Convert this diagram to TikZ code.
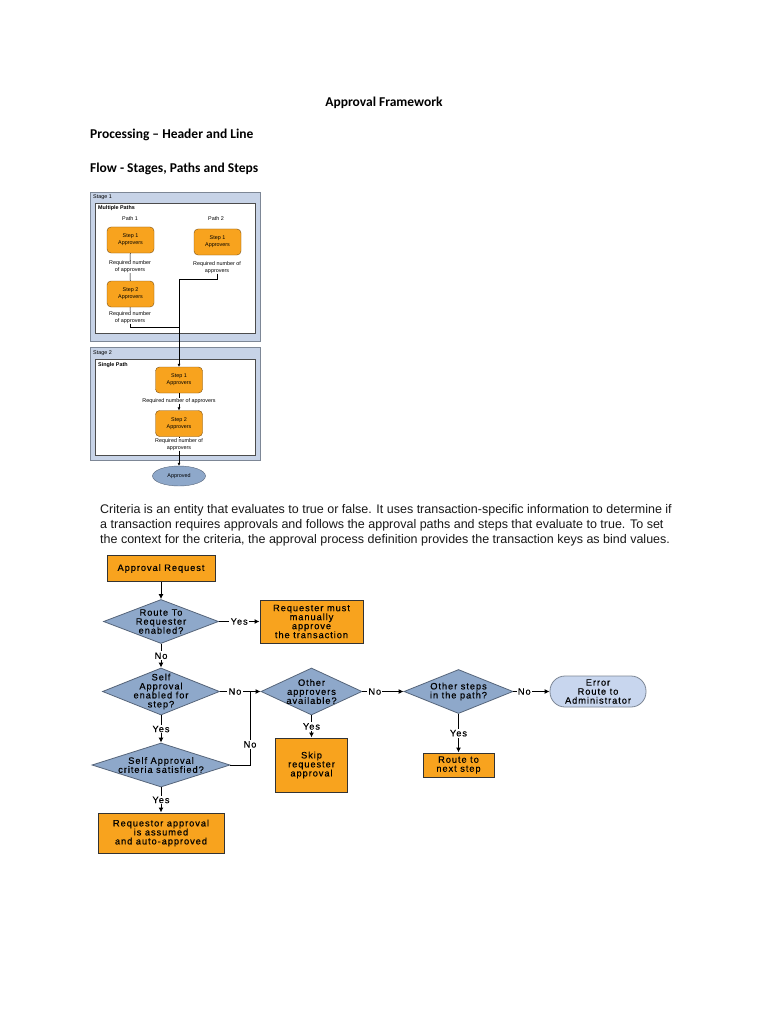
\documentclass[tikz,border=0pt]{standalone}
\usepackage{fontspec}
\setmainfont{Liberation Sans}
\newfontfamily\headfont[Ligatures=TeX]{Carlito}
\newfontfamily\flowfont[LetterSpace=10,FakeBold=0.3]{Liberation Sans}
\usetikzlibrary{shapes.geometric,arrows.meta}
\definecolor{steporange}{HTML}{F8A31E}
\definecolor{stepline}{HTML}{7A4E10}
\definecolor{stagefill}{HTML}{C7D3E7}
\definecolor{stageline}{HTML}{7D8796}
\definecolor{diafill}{HTML}{8EA8CA}
\definecolor{dialine}{HTML}{56657A}
\definecolor{termfill}{HTML}{C8D6EE}

\begin{document}
\begin{tikzpicture}[x=1pt,y=1pt]
	\tikzstyle{every node}+=[inner sep=0pt]
	\tikzstyle{heading}=[font=\headfont\bfseries\fontsize{13.5}{15}\selectfont, anchor=base west]
	\tikzstyle{stagebox}=[draw=stageline, fill=stagefill, line width=0.8pt]
	\tikzstyle{pathbox}=[draw=black!70, fill=white, line width=0.6pt]
	\tikzstyle{tiny}=[font=\fontsize{5.4}{7}\selectfont, align=center]
	\tikzstyle{stepbox}=[draw=stepline, fill=steporange, rounded corners=4pt, minimum width=47, minimum height=26, tiny]
	\tikzstyle{flowtext}=[font=\flowfont\fontsize{9.3}{9}\selectfont, align=center, text=black]
	\tikzstyle{flowbox}=[draw=black!80, fill=steporange, line width=1pt, flowtext]
	\tikzstyle{dia}=[diamond, draw=dialine, fill=diafill, line width=0.8pt]
	\tikzstyle{edgelab}=[fill=white, inner sep=1.2pt, flowtext]
	\tikzstyle{farrow}=[-{Latex[length=5pt,width=5pt]}]
	\tikzstyle{criteria}=[anchor=base west, font=\fontsize{12.5}{15}\selectfont, text=black!90]
	\useasboundingbox (0,0) rectangle (768,-1024);
	\fill [white] (0,0) rectangle (768,-1024);
	\node [heading, anchor=base] (title) at (384,-107) {Approval Framework};
	\node [heading] (processing) at (90,-139) {Processing -- Header and Line};
	\node [heading] (flow) at (90,-173) {Flow - Stages, Paths and Steps};
	\node [stagebox, minimum width=170, minimum height=149] (stage1) at (175,-266.5) {};
	\node [pathbox, minimum width=160, minimum height=130] (multi) at (175,-268) {};
	\node [tiny, anchor=west] (stage1lab) at (93,-197) {Stage 1};
	\node [tiny, anchor=west, font=\bfseries\fontsize{5.4}{7}\selectfont] (multilab) at (98,-208) {Multiple Paths};
	\node [tiny] (path1) at (130,-219) {Path 1};
	\node [tiny] (path2) at (216,-219) {Path 2};
	\node [stepbox] (p1s1) at (130.5,-240) {Step 1\\Approvers};
	\node [tiny] (p1r1) at (130,-267) {Required number\\of approvers};
	\node [stepbox] (p1s2) at (130.5,-294) {Step 2\\Approvers};
	\node [tiny] (p1r2) at (130,-317.5) {Required number\\of approvers};
	\node [stepbox] (p2s1) at (217.5,-242) {Step 1\\Approvers};
	\node [tiny] (p2r1) at (217,-267.5) {Required number of\\approvers};
	\node [stagebox, minimum width=170, minimum height=113] (stage2) at (175,-403.5) {};
	\node [pathbox, minimum width=160, minimum height=96] (single) at (175,-407) {};
	\node [tiny, anchor=west] (stage2lab) at (93,-353) {Stage 2};
	\node [tiny, anchor=west, font=\bfseries\fontsize{5.4}{7}\selectfont] (singlelab) at (98,-365) {Single Path};
	\node [stepbox] (s2s1) at (179,-380) {Step 1\\Approvers};
	\node [tiny] (s2r1) at (179,-401) {Required number of approvers};
	\node [stepbox] (s2s2) at (179,-423.5) {Step 2\\Approvers};
	\node [tiny] (s2r2) at (179,-444.5) {Required number of\\approvers};
	\node [ellipse, draw=dialine, fill=diafill, minimum width=53, minimum height=20, tiny] (approved) at (179,-476) {Approved};
	\coordinate (merge) at (179,-279);
	\coordinate (joinA) at (179,-327);
	\draw [line width=0.5pt] (p1s1) -- (p1r1);
	\draw [line width=0.5pt] (p1r1) -- (p1s2);
	\draw [line width=0.5pt] (p1s2) -- (p1r2);
	\draw [line width=0.5pt] (p1r2.south) |- (joinA);
	\draw [line width=0.5pt, -{Latex[length=3pt,width=3pt]}] (p2r1.south) |- (merge) -- (s2s1.north);
	\draw [line width=0.5pt] (s2s1) -- (s2r1);
	\draw [line width=0.5pt, -{Latex[length=3pt,width=3pt]}] (s2r1) -- (s2s2);
	\draw [line width=0.5pt] (s2s2) -- (s2r2);
	\draw [line width=0.5pt, -{Latex[length=3pt,width=3pt]}] (s2r2) -- (approved);
	\node [criteria] (crit1) at (100,-513) {Criteria is an entity that evaluates to true or false. It uses transaction-specific information to determine if};
	\node [criteria] (crit2) at (100,-528) {a transaction requires approvals and follows the approval paths and steps that evaluate to true. To set};
	\node [criteria] (crit3) at (100,-543) {the context for the criteria, the approval process definition provides the transaction keys as bind values.};
	\node [flowbox, minimum width=108, minimum height=26] (req) at (161,-568.5) {Approval Request};
	\node [dia, minimum width=115, minimum height=44, label={[flowtext]center:{Route To\\Requester\\enabled?}}] (d1) at (161,-621.5) {};
	\node [flowbox, minimum width=103, minimum height=43] (must) at (311.5,-621.5) {Requester must\\manually\\approve\\the transaction};
	\node [dia, minimum width=117, minimum height=47, label={[flowtext]center:{Self\\Approval\\enabled for\\step?}}] (d2) at (161,-691.5) {};
	\node [dia, minimum width=101, minimum height=47, label={[flowtext]center:{Other\\approvers\\available?}}] (d3) at (311.5,-691.5) {};
	\node [dia, minimum width=109, minimum height=44, label={[flowtext]center:{Other steps\\in the path?}}] (d5) at (458.5,-691.5) {};
	\node [draw=stageline, fill=termfill, line width=0.8pt, rounded corners=15pt, minimum width=96, minimum height=31, flowtext] (err) at (598,-691.5) {Error\\Route to\\Administrator};
	\node [dia, minimum width=138, minimum height=44, label={[flowtext]center:{Self Approval\\criteria satisfied?}}] (d4) at (161,-765) {};
	\node [flowbox, minimum width=72, minimum height=54] (skip) at (311.5,-765) {Skip\\requester\\approval};
	\node [flowbox, minimum width=71, minimum height=24] (next) at (458.5,-765) {Route to\\next step};
	\node [flowbox, minimum width=126, minimum height=40] (auto) at (161,-833) {Requestor approval\\is assumed\\and auto-approved};
	\coordinate (nojoin) at (250,-691.5);
	\draw [line width=1pt, farrow] (req) -- (d1);
	\draw [line width=1pt, farrow] (d1) -- node [edgelab] {Yes} (must);
	\draw [line width=1pt, farrow] (d1) -- node [edgelab] {No} (d2);
	\draw [line width=1pt] (d2) -- node [edgelab] {No} (nojoin);
	\draw [line width=1pt, farrow] (nojoin) -- (d3);
	\draw [line width=1pt] (d4) -| node [edgelab, pos=0.64] {No} (nojoin);
	\draw [line width=1pt, farrow] (d2) -- node [edgelab] {Yes} (d4);
	\draw [line width=1pt, farrow] (d4) -- node [edgelab] {Yes} (auto);
	\draw [line width=1pt, farrow] (d3) -- node [edgelab] {Yes} (skip);
	\draw [line width=1pt, farrow] (d3) -- node [edgelab, pos=0.3] {No} (d5);
	\draw [line width=1pt, farrow] (d5) -- node [edgelab, pos=0.3] {No} (err);
	\draw [line width=1pt, farrow] (d5) -- node [edgelab] {Yes} (next);
\end{tikzpicture}
\end{document}
